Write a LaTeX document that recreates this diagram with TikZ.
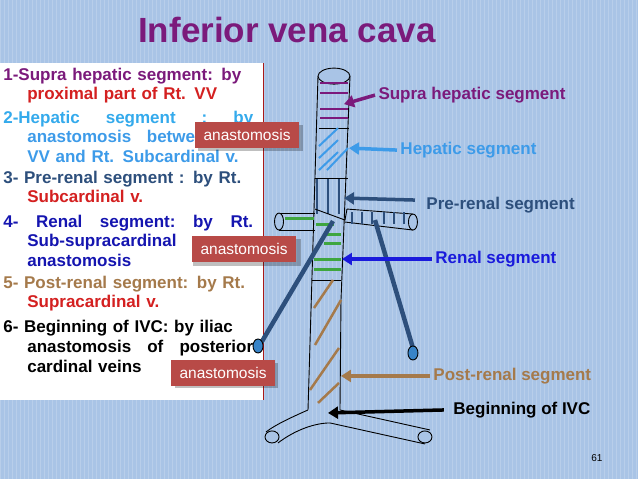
\documentclass[tikz,border=0pt]{standalone}
\usepackage{fontspec}
\setmainfont{Liberation Sans}
\usetikzlibrary{positioning,arrows.meta}
\definecolor{bgblue}{HTML}{A9C4E6}
\definecolor{supra}{HTML}{7B1A7B}
\definecolor{hep}{HTML}{3D9BE9}
\definecolor{prer}{HTML}{2D4F7C}
\definecolor{ren}{HTML}{1A1ADC}
\definecolor{postr}{HTML}{A57A4B}
\definecolor{redtxt}{HTML}{D42020}
\definecolor{anabox}{HTML}{B84A47}
\definecolor{grn}{HTML}{3FA63F}
\newcommand{\ind}{\hspace*{24pt}}
\begin{document}
\begin{tikzpicture}[x=1pt,y=-1pt,
    lbl/.style={font=\bfseries\fontsize{17}{19}\selectfont,anchor=west},
    arr/.style={line width=3.5pt,-{Triangle[length=10pt,width=12pt]}},
    ana/.style={fill=anabox,text=white,font=\fontsize{15.5}{17}\selectfont,minimum width=104pt,minimum height=26pt,inner sep=2pt},
    wall/.style={black,line width=0.9pt},
    item/.style={font=\bfseries\fontsize{17}{19.7}\selectfont,anchor=base west,text width=250pt,align=left,inner sep=0pt}]
% background
\fill[bgblue] (0,0) rectangle (638,479);
\draw[white,opacity=0.18,line width=0.3pt,step=4] (0,0) grid (638,479);
\useasboundingbox (0,0) rectangle (638,479);
\node[font=\bfseries\fontsize{35}{38}\selectfont,text=supra] (title) at (287,30) {Inferior vena cava};
% text panel
\fill[white] (0,63) rectangle (263,400);
\draw[redtxt!80!black,line width=0.8pt] (263,63) -- (263,400);
\node[item] (t1) at (3,80) {\textcolor{supra}{1-Supra hepatic segment: by}\\ \textcolor{redtxt}{\ind proximal part of Rt. VV}};
\node[item] (t2) at (3,123) {\textcolor{hep!85!cyan}{2-Hepatic\hfill segment\hfill :\hfill by}\\ \textcolor{hep}{\ind anastomosis\hfill between\hfill Rt.}\\ \textcolor{hep}{\ind VV and Rt. Subcardinal v.}};
\node[item] (t3) at (3,183) {\textcolor{prer}{3- Pre-renal segment : by Rt.}\\ \textcolor{redtxt}{\ind Subcardinal v.}};
\node[item] (t4) at (3,227) {\textcolor{ren!80!black}{4-\hfill Renal\hfill segment:\hfill by\hfill Rt.}\\ \textcolor{ren!80!black}{\ind Sub-supracardinal}\\ \textcolor{ren!80!black}{\ind anastomosis}};
\node[item] (t5) at (3,288) {\textcolor{postr}{5- Post-renal segment: by Rt.}\\ \textcolor{redtxt}{\ind Supracardinal v.}};
\node[item] (t6) at (3,333) {6- Beginning of IVC: by iliac\\ \ind anastomosis\hfill of\hfill posterior\\ \ind cardinal veins};
% IVC tube
\draw[wall] (318,76) -- (308,410);
\draw[wall] (350,76) -- (341,300) -- (340,410);
\draw[wall,fill=bgblue] (334,76) ellipse (16 and 8);
% supra hepatic stripes
\foreach \y in {83,93,109,118}
  \draw[supra,line width=2.5pt] (320,\y) -- (348,\y);
\draw[wall] (319,128) -- (349,128);
\foreach \a in {0,1,2}
  \draw[hep,line width=2pt] (319,146+12*\a) -- (338,128+12*\a);
\draw[hep,line width=2pt] (327,170) -- (348,148);
\draw[wall] (315,178) -- (348,178);
\foreach \x in {317,328,339}
  \draw[prer,line width=2.2pt] (\x,179) -- (\x,214);
% renal veins
\draw[wall] (279,213) -- (315,213);
\draw[wall] (279,230) -- (315,230);
\draw[wall,fill=bgblue] (279,221.5) ellipse (4.5 and 8.5);
\draw[wall] (315,209) -- (345,220) -- (347,209);
\draw[wall] (347,209) -- (413,214);
\draw[wall] (345,222) -- (413,230);
\draw[wall,fill=bgblue] (413,222) ellipse (4.5 and 8);
\foreach \x in {352,362,372,384,394,404}
  \draw[prer,line width=2pt] (\x,212) -- (\x,224);
% green stripes
\draw[grn,line width=3pt] (285,218) -- (314,218);
\foreach \y/\a/\b in {224/316/334,234/324/341,243/324/341,259/314/341,269/314/341}
  \draw[grn,line width=3pt] (\a,\y) -- (\b,\y);
\draw[wall] (312,280) -- (341,280);
% post renal
\foreach \p/\q in {{(314,308)}/{(333,280)},{(315,345)}/{(341,300)},{(310,390)}/{(339,348)},{(318,403)}/{(339,383)}}
  \draw[postr,line width=2.5pt] \p -- \q;
% supracardinal veins
\draw[prer,line width=4.5pt] (333,221) -- (261,343);
\draw[wall,fill=hep!70!prer] (258,346) ellipse (5 and 7);
\draw[prer,line width=4.5pt] (375,220) -- (413,348);
\draw[wall,fill=hep!70!prer] (413,353) ellipse (5 and 7);
% iliac
\draw[wall] (308,410) .. controls (290,418) and (275,425) .. (266,432);
\draw[wall] (278,443) .. controls (295,430) and (315,423) .. (330,423);
\draw[wall] (330,423) -- (425,444);
\draw[wall] (340,410) -- (430,430);
\draw[wall,fill=bgblue] (272,437) ellipse (7 and 6);
\draw[wall,fill=bgblue] (425,437) ellipse (7 and 6);
% labels and arrows
\node[lbl,text=supra] (lsupra) at (375,95) {Supra hepatic segment};
\node[lbl,text=hep] (lhep) at (397,150) {Hepatic segment};
\node[lbl,text=prer] (lpre) at (423,205) {Pre-renal segment};
\node[lbl,text=ren] (lren) at (432,259) {Renal segment};
\node[lbl,text=postr] (lpost) at (430,376) {Post-renal segment};
\node[lbl,text=black] (lbeg) at (450,410) {Beginning of IVC};
\coordinate (psupra) at (344,104);
\coordinate (phep) at (349,148);
\coordinate (ppre) at (344,198);
\coordinate (pren) at (342,259);
\coordinate (ppost) at (341,376);
\coordinate (pbeg) at (328,413);
\draw[arr,supra] (lsupra.west) -- (psupra);
\draw[arr,hep] (lhep.west) -- (phep);
\draw[arr,prer] (lpre.west) ++(-8,-5) -- (ppre);
\draw[arr,ren] (lren.west) -- (pren);
\draw[arr,postr] (lpost.west) -- (ppost);
\draw[arr,black] (lbeg.west) ++(-6,0) -- (pbeg);
% anastomosis boxes
\fill[black,opacity=0.25] (198,125) rectangle (303,151);
\node[ana] (a1) at (247,135) {anastomosis};
\fill[black,opacity=0.25] (193,239) rectangle (301,266);
\node[ana] (a2) at (244,249) {anastomosis};
\fill[black,opacity=0.25] (175,363) rectangle (278,388);
\node[ana] (a3) at (223,373) {anastomosis};
\node[font=\fontsize{10}{11}\selectfont] (pg) at (597,458) {61};
\end{tikzpicture}
\end{document}
